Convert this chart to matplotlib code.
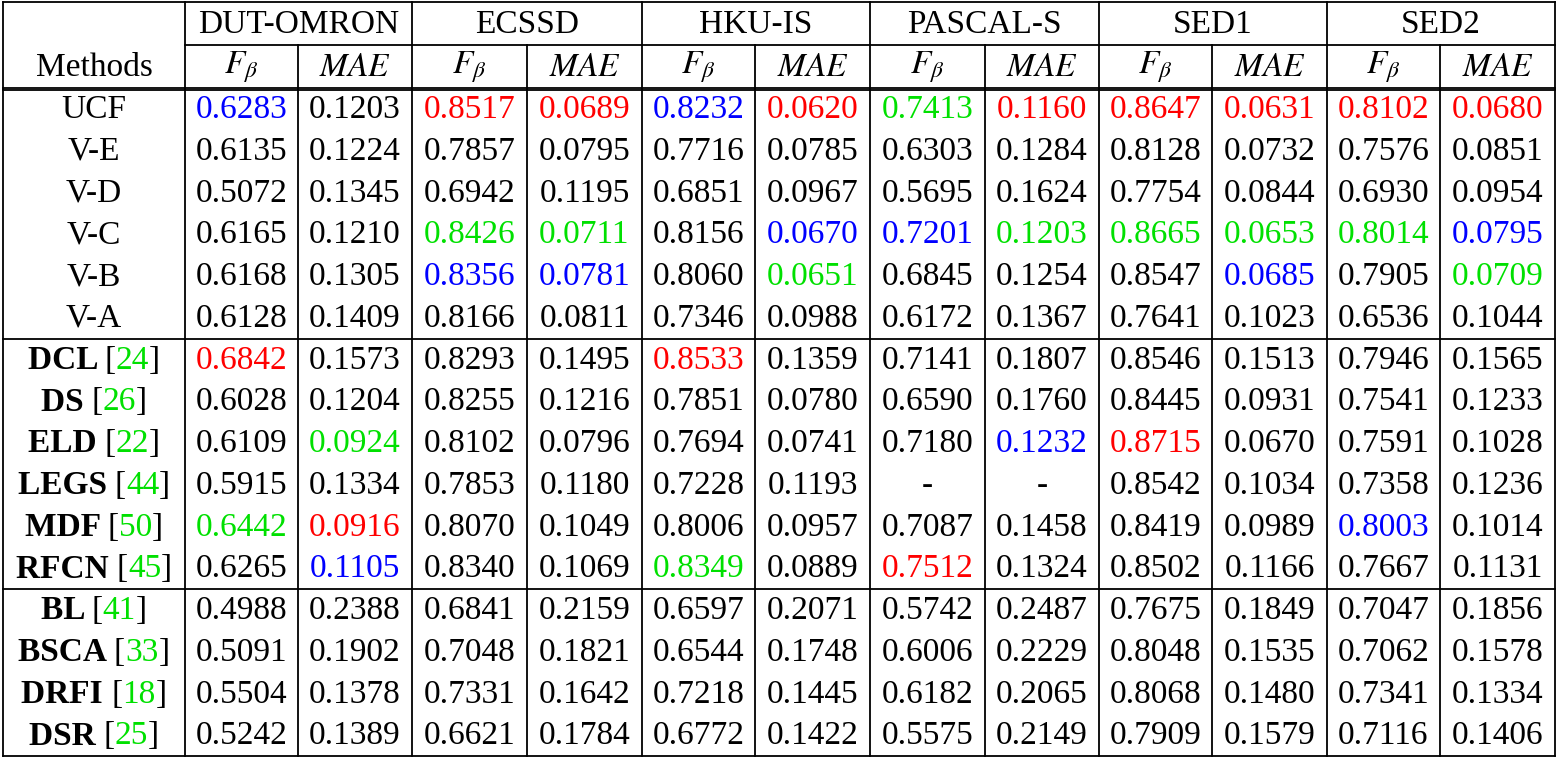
import matplotlib.pyplot as plt

plt.rcParams.update({
    'font.family': 'Liberation Serif',
    'mathtext.fontset': 'stix',
})

datasets = ["DUT-OMRON", "ECSSD", "HKU-IS", "PASCAL-S", "SED1", "SED2"]
methods = ["UCF", "V-E", "V-D", "V-C", "V-B", "V-A",
           "DCL", "DS", "ELD", "LEGS", "MDF", "RFCN",
           "BL", "BSCA", "DRFI", "DSR"]
refs = ["", "", "", "", "", "",
        "24", "26", "22", "44", "50", "45",
        "41", "33", "18", "25"]

values = [
    ["0.6283", "0.1203", "0.8517", "0.0689", "0.8232", "0.0620", "0.7413", "0.1160", "0.8647", "0.0631", "0.8102", "0.0680"],
    ["0.6135", "0.1224", "0.7857", "0.0795", "0.7716", "0.0785", "0.6303", "0.1284", "0.8128", "0.0732", "0.7576", "0.0851"],
    ["0.5072", "0.1345", "0.6942", "0.1195", "0.6851", "0.0967", "0.5695", "0.1624", "0.7754", "0.0844", "0.6930", "0.0954"],
    ["0.6165", "0.1210", "0.8426", "0.0711", "0.8156", "0.0670", "0.7201", "0.1203", "0.8665", "0.0653", "0.8014", "0.0795"],
    ["0.6168", "0.1305", "0.8356", "0.0781", "0.8060", "0.0651", "0.6845", "0.1254", "0.8547", "0.0685", "0.7905", "0.0709"],
    ["0.6128", "0.1409", "0.8166", "0.0811", "0.7346", "0.0988", "0.6172", "0.1367", "0.7641", "0.1023", "0.6536", "0.1044"],
    ["0.6842", "0.1573", "0.8293", "0.1495", "0.8533", "0.1359", "0.7141", "0.1807", "0.8546", "0.1513", "0.7946", "0.1565"],
    ["0.6028", "0.1204", "0.8255", "0.1216", "0.7851", "0.0780", "0.6590", "0.1760", "0.8445", "0.0931", "0.7541", "0.1233"],
    ["0.6109", "0.0924", "0.8102", "0.0796", "0.7694", "0.0741", "0.7180", "0.1232", "0.8715", "0.0670", "0.7591", "0.1028"],
    ["0.5915", "0.1334", "0.7853", "0.1180", "0.7228", "0.1193", "-", "-", "0.8542", "0.1034", "0.7358", "0.1236"],
    ["0.6442", "0.0916", "0.8070", "0.1049", "0.8006", "0.0957", "0.7087", "0.1458", "0.8419", "0.0989", "0.8003", "0.1014"],
    ["0.6265", "0.1105", "0.8340", "0.1069", "0.8349", "0.0889", "0.7512", "0.1324", "0.8502", "0.1166", "0.7667", "0.1131"],
    ["0.4988", "0.2388", "0.6841", "0.2159", "0.6597", "0.2071", "0.5742", "0.2487", "0.7675", "0.1849", "0.7047", "0.1856"],
    ["0.5091", "0.1902", "0.7048", "0.1821", "0.6544", "0.1748", "0.6006", "0.2229", "0.8048", "0.1535", "0.7062", "0.1578"],
    ["0.5504", "0.1378", "0.7331", "0.1642", "0.7218", "0.1445", "0.6182", "0.2065", "0.8068", "0.1480", "0.7341", "0.1334"],
    ["0.5242", "0.1389", "0.6621", "0.1784", "0.6772", "0.1422", "0.5575", "0.2149", "0.7909", "0.1579", "0.7116", "0.1406"],
]

# r = best, g = second, b = third, k = plain
colours = [
    "bkrrbrgrrrrr",
    "kkkkkkkkkkkk",
    "kkkkkkkkkkkk",
    "kkggkbbggggb",
    "kkbbkgkkkbkg",
    "kkkkkkkkkkkk",
    "rkkkrkkkkkkk",
    "kkkkkkkkkkkk",
    "kgkkkkkbrkkk",
    "kkkkkkkkkkkk",
    "grkkkkkkkkbk",
    "kbkkgkrkkkkk",
    "kkkkkkkkkkkk",
    "kkkkkkkkkkkk",
    "kkkkkkkkkkkk",
    "kkkkkkkkkkkk",
]
cmap = {"r": "#ff0000", "g": "#00e000", "b": "#0000ff", "k": "black"}

col_x = [3, 185, 298, 412, 527, 642, 755, 870, 985, 1099, 1212, 1327, 1440, 1555]
row_y = [2, 45, 88] + [88 + 41.75 * (i + 1) for i in range(16)]

W, H = 1557, 759
fig = plt.figure(figsize=(W / 100, H / 100), dpi=100)
ax = fig.add_axes([0, 0, 1, 1])
ax.set_xlim(0, W)
ax.set_ylim(H, 0)
ax.axis("off")

fs = 24
lw = 1.3

# horizontal lines
for y in [row_y[0], row_y[1], row_y[2], row_y[8], row_y[14], row_y[18]]:
    x0 = col_x[1] if y == row_y[1] else col_x[0]
    ax.plot([x0, col_x[-1]], [y, y], color="black", lw=lw)
ax.plot([col_x[0], col_x[-1]], [row_y[2] + 2, row_y[2] + 2], color="black", lw=lw)

# vertical lines
for i, x in enumerate(col_x):
    if i >= 2 and i % 2 == 0 and i < len(col_x) - 1:
        ax.plot([x, x], [row_y[1], row_y[-1]], color="black", lw=lw)
    else:
        ax.plot([x, x], [row_y[0], row_y[-1]], color="black", lw=lw)

# header
for k, name in enumerate(datasets):
    xc = (col_x[1 + 2 * k] + col_x[3 + 2 * k]) / 2
    ax.text(xc, (row_y[0] + row_y[1]) / 2 + 1, name, ha="center", va="center", fontsize=fs)
    for j, lab in enumerate([r"$F_\beta$", r"$MAE$"]):
        xc = (col_x[1 + 2 * k + j] + col_x[2 + 2 * k + j]) / 2
        ax.text(xc, (row_y[1] + row_y[2]) / 2 + 1, lab, ha="center", va="center", fontsize=fs)
ax.text((col_x[0] + col_x[1]) / 2, (row_y[1] + row_y[2]) / 2 + 1, "Methods",
        ha="center", va="center", fontsize=fs)

# body
for i, m in enumerate(methods):
    yc = (row_y[2 + i] + row_y[3 + i]) / 2 + 1
    xc = (col_x[0] + col_x[1]) / 2
    if refs[i]:
        t1 = ax.text(0, yc, m + " ", fontsize=fs, fontweight="bold", va="center")
        t2 = ax.text(0, yc, "[", fontsize=fs, va="center")
        t3 = ax.text(0, yc, refs[i], fontsize=fs, va="center", color=cmap["g"])
        t4 = ax.text(0, yc, "]", fontsize=fs, va="center")
        fig.canvas.draw()
        r = fig.canvas.get_renderer()
        parts = [t1, t2, t3, t4]
        widths = [t.get_window_extent(r).width for t in parts]
        x = xc - sum(widths) / 2
        for t, w in zip(parts, widths):
            t.set_x(x)
            x += w
    else:
        ax.text(xc, yc, m, ha="center", va="center", fontsize=fs)
    for j, v in enumerate(values[i]):
        xc = (col_x[1 + j] + col_x[2 + j]) / 2
        ax.text(xc, yc, v, ha="center", va="center", fontsize=fs,
                color=cmap[colours[i][j]])

fig.savefig("out.png", dpi=100)
